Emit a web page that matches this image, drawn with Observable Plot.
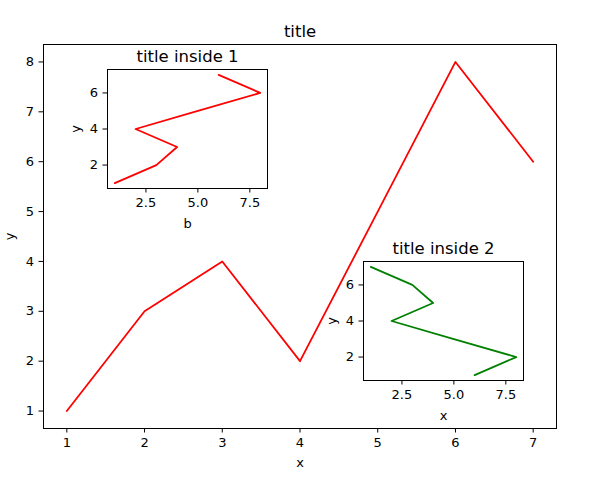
<!DOCTYPE html>
<html><head><meta charset="utf-8">
<script src="https://cdn.jsdelivr.net/npm/d3@7"></script>
<script src="https://cdn.jsdelivr.net/npm/@observablehq/plot@0.6"></script>
<style>
body{margin:0;background:#fff}
#wrap{position:relative;width:607px;height:477px;background:#fff}
</style>
</head><body><div id="wrap"></div>
<script>
// data
const xs = [1, 2, 3, 4, 5, 6, 7];
const ys = [1, 3, 4, 2, 5, 8, 6];
const ysReversed = [6, 8, 5, 2, 4, 3, 1];
const mainTicksX = [1, 2, 3, 4, 5, 6, 7];
const mainTicksY = [1, 2, 3, 4, 5, 6, 7, 8];
const insetTicksX = [2.5, 5, 7.5];
const insetTicksY = [2, 4, 6];
const titles = ["title", "title inside 1", "title inside 2"];
const labels = {main: ["x", "y"], inset1: ["b", "y"], inset2: ["x", "y"]};

const FONT = '"DejaVu Sans", sans-serif';
const wrap = document.getElementById("wrap");

function place(svg, left, top) {
  svg.style.position = "absolute";
  svg.style.left = left + "px";
  svg.style.top = top + "px";
  svg.style.maxWidth = "none";
  wrap.appendChild(svg);
}

const mainData = xs.map((x, i) => ({x, y: ys[i]}));
const inset1Data = xs.map((v, i) => ({x: ys[i], y: v}));
const inset2Data = xs.map((v, i) => ({x: ysReversed[i], y: v}));

// main chart
const main = Plot.plot({
  width: 607, height: 477,
  marginLeft: 43, marginRight: 51, marginTop: 44, marginBottom: 49,
  style: {background: "transparent", fontFamily: FONT, fontSize: "13px", color: "#000", overflow: "visible"},
  x: {domain: [0.7, 7.3]},
  y: {domain: [0.65, 8.35]},
  marks: [
    Plot.axisX({ticks: mainTicksX, tickSize: 4.5, tickPadding: 5, tickFormat: d3.format("d"),
      label: labels.main[0], labelAnchor: "center", labelArrow: "none", labelOffset: 38}),
    Plot.axisY({ticks: mainTicksY, tickSize: 4.5, tickPadding: 5, tickFormat: d3.format("d"),
      label: labels.main[1], labelAnchor: "center", labelArrow: "none", labelOffset: 39}),
    Plot.lineY(mainData, {x: "x", y: "y", stroke: "red", strokeWidth: 1.8}),
    Plot.frame({stroke: "#000", strokeWidth: 1}),
    Plot.text([titles[0]], {frameAnchor: "top", lineAnchor: "bottom", dy: -8, fontSize: 16.5, fill: "#000"})
  ]
});
place(main, 0, 0);

function inset(data, color, title, lab, left, top) {
  // frame: 160 x 119
  const W = 220, H = 200, mL = 47, mT = 29;
  const p = Plot.plot({
    width: W, height: H,
    marginLeft: mL, marginRight: W - mL - 160, marginTop: mT, marginBottom: H - mT - 119,
    style: {background: "transparent", fontFamily: FONT, fontSize: "13px", color: "#000", overflow: "visible"},
    x: {domain: [0.65, 8.35]},
    y: {domain: [0.7, 7.3]},
    marks: [
      Plot.frame({fill: "white", stroke: "none"}),
      Plot.axisX({ticks: insetTicksX, tickSize: 4.5, tickPadding: 5, tickFormat: d3.format(".1f"),
        label: lab[0], labelAnchor: "center", labelArrow: "none", labelOffset: 39}),
      Plot.axisY({ticks: insetTicksY, tickSize: 4.5, tickPadding: 5, tickFormat: d3.format("d"),
        label: lab[1], labelAnchor: "center", labelArrow: "none", labelOffset: 37}),
      Plot.line(data, {x: "x", y: "y", stroke: color, strokeWidth: 1.8}),
      Plot.frame({stroke: "#000", strokeWidth: 1}),
      Plot.text([title], {frameAnchor: "top", lineAnchor: "bottom", dy: -8, fontSize: 16.5, fill: "#000"})
    ]
  });
  place(p, left - mL, top - mT);
}
inset(inset1Data, "red", titles[1], labels.inset1, 107, 69);
inset(inset2Data, "green", titles[2], labels.inset2, 363, 261);
</script>
</body></html>
